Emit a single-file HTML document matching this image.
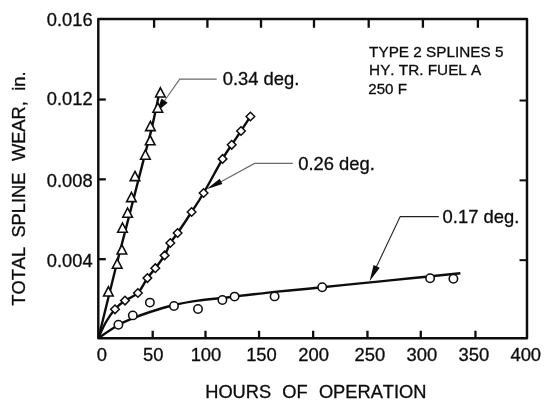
<!DOCTYPE html>
<html><head><meta charset="utf-8"><title>Spline wear chart</title>
<style>html,body{margin:0;padding:0;background:#fff}svg{display:block}</style></head>
<body>
<svg width="550" height="409" viewBox="0 0 550 409">
<rect width="550" height="409" fill="#fff"/>
<path d="M98.40,338.20 C101.20,326.83 111.30,285.65 115.20,270.00 C119.10,254.35 119.50,253.22 121.80,244.30 C124.10,235.38 125.35,230.65 129.00,216.50 C132.65,202.35 140.78,170.73 143.70,159.40 C146.62,148.07 145.37,152.83 146.50,148.50 C147.63,144.17 149.20,138.68 150.50,133.40 C151.80,128.12 152.83,123.53 154.30,116.80 C155.77,110.07 158.47,96.97 159.30,93.00" fill="none" stroke="#0d0d0d" stroke-width="2.4" stroke-linecap="butt" stroke-linejoin="round"/>
<path d="M98.30,338.00 C99.58,335.33 103.22,326.78 106.00,322.00 C108.78,317.22 111.83,312.87 115.00,309.30 C118.17,305.73 121.18,303.32 125.00,300.60 C128.82,297.88 134.17,296.75 137.90,293.00 C141.63,289.25 144.50,282.23 147.40,278.10 C150.30,273.97 152.43,271.98 155.30,268.20 C158.17,264.42 162.10,259.60 164.60,255.40 C167.10,251.20 168.13,246.73 170.30,243.00 C172.47,239.27 174.05,238.17 177.60,233.00 C181.15,227.83 187.27,218.67 191.60,212.00 C195.93,205.33 198.43,201.85 203.60,193.00 C208.77,184.15 217.92,166.93 222.60,158.90 C227.28,150.87 228.63,149.45 231.70,144.80 C234.77,140.15 237.88,135.72 241.00,131.00 C244.12,126.28 248.83,118.92 250.40,116.50" fill="none" stroke="#0d0d0d" stroke-width="2.4" stroke-linecap="butt" stroke-linejoin="round"/>
<path d="M98.30,338.00 C101.65,335.83 112.58,328.30 118.40,325.00 C124.22,321.70 127.93,320.37 133.20,318.20 C138.47,316.03 143.20,314.20 150.00,312.00 C156.80,309.80 166.00,306.90 174.00,305.00 C182.00,303.10 189.93,301.77 198.00,300.60 C206.07,299.43 216.30,298.70 222.40,298.00 C228.50,297.30 228.37,297.13 234.60,296.40 C240.83,295.67 253.13,294.35 259.80,293.60 C266.47,292.85 267.90,292.58 274.60,291.90 C281.30,291.22 292.10,290.27 300.00,289.50 C307.90,288.73 312.00,288.32 322.00,287.30 C332.00,286.28 348.67,284.55 360.00,283.40 C371.33,282.25 378.93,281.52 390.00,280.40 C401.07,279.28 414.67,277.88 426.40,276.70 C438.13,275.52 454.73,273.87 460.40,273.30" fill="none" stroke="#0d0d0d" stroke-width="2.4" stroke-linecap="butt" stroke-linejoin="round"/>
<rect x="98.3" y="19.0" width="428.7" height="319.3" fill="none" stroke="#0d0d0d" stroke-width="2.45" stroke-linejoin="round"/>
<path d="M154.10,19.00 v8.8 M152.69,338.30 v-7.5" stroke="#0d0d0d" stroke-width="2.3" fill="none"/>
<path d="M207.40,19.00 v8.8 M205.49,338.30 v-7.5" stroke="#0d0d0d" stroke-width="2.3" fill="none"/>
<path d="M261.00,19.00 v8.8 M259.08,338.30 v-7.5" stroke="#0d0d0d" stroke-width="2.3" fill="none"/>
<path d="M314.00,19.00 v8.8 M313.17,338.30 v-7.5" stroke="#0d0d0d" stroke-width="2.3" fill="none"/>
<path d="M368.70,19.00 v8.8 M367.47,338.30 v-7.5" stroke="#0d0d0d" stroke-width="2.3" fill="none"/>
<path d="M422.90,19.00 v8.8 M420.76,338.30 v-7.5" stroke="#0d0d0d" stroke-width="2.3" fill="none"/>
<path d="M477.90,19.00 v8.8 M475.46,338.30 v-7.5" stroke="#0d0d0d" stroke-width="2.3" fill="none"/>
<path d="M98.30,259.18 h7.5" stroke="#0d0d0d" stroke-width="2.3" fill="none"/><path d="M527.05,260.18 h-7.5" stroke="#0d0d0d" stroke-width="2.0" fill="none"/>
<path d="M98.30,179.35 h7.5" stroke="#0d0d0d" stroke-width="2.3" fill="none"/><path d="M527.05,180.35 h-7.5" stroke="#0d0d0d" stroke-width="2.0" fill="none"/>
<path d="M98.30,99.52 h7.5" stroke="#0d0d0d" stroke-width="2.3" fill="none"/><path d="M527.05,100.52 h-7.5" stroke="#0d0d0d" stroke-width="2.0" fill="none"/>
<path d="M216.7,79.1 H179.7 L164.5,100.7" fill="none" stroke="#6a6a6a" stroke-width="1.1"/>
<path d="M292.8,163.4 H254.6 L215,185" fill="none" stroke="#6a6a6a" stroke-width="1.1"/>
<path d="M438.8,216.6 H400.2 L373,274" fill="none" stroke="#222" stroke-width="1.1"/>
<polygon points="156.47,112.04 167.66,102.80 161.45,98.42" fill="#0d0d0d"/>
<polygon points="206.50,189.20 222.41,183.96 219.67,178.85" fill="#0d0d0d"/>
<polygon points="369.60,281.30 379.73,267.84 373.58,264.93" fill="#0d0d0d"/>
<polygon points="160.40,87.80 165.20,97.00 155.60,97.00" fill="#fff" stroke="#0d0d0d" stroke-width="1.6" stroke-linejoin="miter"/>
<polygon points="157.80,103.00 162.60,112.20 153.00,112.20" fill="#fff" stroke="#0d0d0d" stroke-width="1.6" stroke-linejoin="miter"/>
<polygon points="150.40,121.40 155.20,130.60 145.60,130.60" fill="#fff" stroke="#0d0d0d" stroke-width="1.6" stroke-linejoin="miter"/>
<polygon points="150.20,135.60 155.00,144.80 145.40,144.80" fill="#fff" stroke="#0d0d0d" stroke-width="1.6" stroke-linejoin="miter"/>
<polygon points="145.40,150.00 150.20,159.20 140.60,159.20" fill="#fff" stroke="#0d0d0d" stroke-width="1.6" stroke-linejoin="miter"/>
<polygon points="135.00,171.40 139.80,180.60 130.20,180.60" fill="#fff" stroke="#0d0d0d" stroke-width="1.6" stroke-linejoin="miter"/>
<polygon points="131.40,192.40 136.20,201.60 126.60,201.60" fill="#fff" stroke="#0d0d0d" stroke-width="1.6" stroke-linejoin="miter"/>
<polygon points="127.60,208.00 132.40,217.20 122.80,217.20" fill="#fff" stroke="#0d0d0d" stroke-width="1.6" stroke-linejoin="miter"/>
<polygon points="122.50,223.00 127.30,232.20 117.70,232.20" fill="#fff" stroke="#0d0d0d" stroke-width="1.6" stroke-linejoin="miter"/>
<polygon points="121.90,244.80 126.70,254.00 117.10,254.00" fill="#fff" stroke="#0d0d0d" stroke-width="1.6" stroke-linejoin="miter"/>
<polygon points="117.20,259.00 122.00,268.20 112.40,268.20" fill="#fff" stroke="#0d0d0d" stroke-width="1.6" stroke-linejoin="miter"/>
<polygon points="108.40,286.80 113.20,296.00 103.60,296.00" fill="#fff" stroke="#0d0d0d" stroke-width="1.6" stroke-linejoin="miter"/>
<polygon points="115.00,305.00 119.30,309.30 115.00,313.60 110.70,309.30" fill="#fff" stroke="#0d0d0d" stroke-width="1.5"/>
<polygon points="125.00,296.30 129.30,300.60 125.00,304.90 120.70,300.60" fill="#fff" stroke="#0d0d0d" stroke-width="1.5"/>
<polygon points="137.90,288.70 142.20,293.00 137.90,297.30 133.60,293.00" fill="#fff" stroke="#0d0d0d" stroke-width="1.5"/>
<polygon points="147.40,273.80 151.70,278.10 147.40,282.40 143.10,278.10" fill="#fff" stroke="#0d0d0d" stroke-width="1.5"/>
<polygon points="155.30,263.90 159.60,268.20 155.30,272.50 151.00,268.20" fill="#fff" stroke="#0d0d0d" stroke-width="1.5"/>
<polygon points="164.60,251.10 168.90,255.40 164.60,259.70 160.30,255.40" fill="#fff" stroke="#0d0d0d" stroke-width="1.5"/>
<polygon points="170.30,238.70 174.60,243.00 170.30,247.30 166.00,243.00" fill="#fff" stroke="#0d0d0d" stroke-width="1.5"/>
<polygon points="177.60,228.70 181.90,233.00 177.60,237.30 173.30,233.00" fill="#fff" stroke="#0d0d0d" stroke-width="1.5"/>
<polygon points="191.60,207.70 195.90,212.00 191.60,216.30 187.30,212.00" fill="#fff" stroke="#0d0d0d" stroke-width="1.5"/>
<polygon points="203.60,188.70 207.90,193.00 203.60,197.30 199.30,193.00" fill="#fff" stroke="#0d0d0d" stroke-width="1.5"/>
<polygon points="222.60,154.60 226.90,158.90 222.60,163.20 218.30,158.90" fill="#fff" stroke="#0d0d0d" stroke-width="1.5"/>
<polygon points="231.70,140.50 236.00,144.80 231.70,149.10 227.40,144.80" fill="#fff" stroke="#0d0d0d" stroke-width="1.5"/>
<polygon points="241.00,126.70 245.30,131.00 241.00,135.30 236.70,131.00" fill="#fff" stroke="#0d0d0d" stroke-width="1.5"/>
<polygon points="250.40,112.20 254.70,116.50 250.40,120.80 246.10,116.50" fill="#fff" stroke="#0d0d0d" stroke-width="1.5"/>
<circle cx="118.40" cy="324.80" r="4.2" fill="#fff" stroke="#0d0d0d" stroke-width="1.55"/>
<circle cx="132.80" cy="315.40" r="4.2" fill="#fff" stroke="#0d0d0d" stroke-width="1.55"/>
<circle cx="149.90" cy="302.60" r="4.2" fill="#fff" stroke="#0d0d0d" stroke-width="1.55"/>
<circle cx="174.00" cy="306.00" r="4.2" fill="#fff" stroke="#0d0d0d" stroke-width="1.55"/>
<circle cx="198.00" cy="309.00" r="4.2" fill="#fff" stroke="#0d0d0d" stroke-width="1.55"/>
<circle cx="222.40" cy="300.00" r="4.2" fill="#fff" stroke="#0d0d0d" stroke-width="1.55"/>
<circle cx="234.60" cy="296.60" r="4.2" fill="#fff" stroke="#0d0d0d" stroke-width="1.55"/>
<circle cx="274.60" cy="296.40" r="4.2" fill="#fff" stroke="#0d0d0d" stroke-width="1.55"/>
<circle cx="322.20" cy="287.30" r="4.2" fill="#fff" stroke="#0d0d0d" stroke-width="1.55"/>
<circle cx="430.10" cy="278.20" r="4.2" fill="#fff" stroke="#0d0d0d" stroke-width="1.55"/>
<circle cx="453.40" cy="278.70" r="4.2" fill="#fff" stroke="#0d0d0d" stroke-width="1.55"/>
<text x="101.80" y="361.3" font-size="18.4" text-anchor="middle" font-family="Liberation Sans, Arial, Helvetica, sans-serif" fill="#0c0c0c" stroke="#0c0c0c" stroke-width="0.3">0</text>
<text x="153.29" y="361.3" font-size="18.4" text-anchor="middle" font-family="Liberation Sans, Arial, Helvetica, sans-serif" fill="#0c0c0c" stroke="#0c0c0c" stroke-width="0.3">50</text>
<text x="205.99" y="361.3" font-size="18.4" text-anchor="middle" font-family="Liberation Sans, Arial, Helvetica, sans-serif" fill="#0c0c0c" stroke="#0c0c0c" stroke-width="0.3">100</text>
<text x="261.48" y="361.3" font-size="18.4" text-anchor="middle" font-family="Liberation Sans, Arial, Helvetica, sans-serif" fill="#0c0c0c" stroke="#0c0c0c" stroke-width="0.3">150</text>
<text x="313.57" y="361.3" font-size="18.4" text-anchor="middle" font-family="Liberation Sans, Arial, Helvetica, sans-serif" fill="#0c0c0c" stroke="#0c0c0c" stroke-width="0.3">200</text>
<text x="369.87" y="361.3" font-size="18.4" text-anchor="middle" font-family="Liberation Sans, Arial, Helvetica, sans-serif" fill="#0c0c0c" stroke="#0c0c0c" stroke-width="0.3">250</text>
<text x="421.86" y="361.3" font-size="18.4" text-anchor="middle" font-family="Liberation Sans, Arial, Helvetica, sans-serif" fill="#0c0c0c" stroke="#0c0c0c" stroke-width="0.3">300</text>
<text x="473.86" y="361.3" font-size="18.4" text-anchor="middle" font-family="Liberation Sans, Arial, Helvetica, sans-serif" fill="#0c0c0c" stroke="#0c0c0c" stroke-width="0.3">350</text>
<text x="525.75" y="361.3" font-size="18.4" text-anchor="middle" font-family="Liberation Sans, Arial, Helvetica, sans-serif" fill="#0c0c0c" stroke="#0c0c0c" stroke-width="0.3">400</text>
<text x="92.6" y="267.48" font-size="18.3" text-anchor="end" font-family="Liberation Sans, Arial, Helvetica, sans-serif" fill="#0c0c0c" stroke="#0c0c0c" stroke-width="0.3">0.004</text>
<text x="92.6" y="187.25" font-size="18.3" text-anchor="end" font-family="Liberation Sans, Arial, Helvetica, sans-serif" fill="#0c0c0c" stroke="#0c0c0c" stroke-width="0.3">0.008</text>
<text x="92.6" y="105.32" font-size="18.3" text-anchor="end" font-family="Liberation Sans, Arial, Helvetica, sans-serif" fill="#0c0c0c" stroke="#0c0c0c" stroke-width="0.3">0.012</text>
<text x="92.6" y="25.50" font-size="18.3" text-anchor="end" font-family="Liberation Sans, Arial, Helvetica, sans-serif" fill="#0c0c0c" stroke="#0c0c0c" stroke-width="0.3">0.016</text>
<text transform="translate(205.2,398.4) scale(1.045,1)" font-size="17.5" style="font-kerning:none" font-family="Liberation Sans, Arial, Helvetica, sans-serif" fill="#0c0c0c" stroke="#0c0c0c" stroke-width="0.3">HOURS<tspan dx="5.7"> OF</tspan><tspan dx="6.0"> OPERATION</tspan></text>
<text transform="translate(24.9,305.7) rotate(-90)" font-size="18.3" style="font-kerning:none" font-family="Liberation Sans, Arial, Helvetica, sans-serif" fill="#0c0c0c" stroke="#0c0c0c" stroke-width="0.3">TOTAL<tspan dx="4.1"> SPLINE</tspan><tspan dx="6.4"> WEAR,</tspan><tspan dx="5.3"> in.</tspan></text>
<text x="222.7" y="85.4" font-size="18.4" font-family="Liberation Sans, Arial, Helvetica, sans-serif" fill="#0c0c0c" stroke="#0c0c0c" stroke-width="0.3">0.34 deg.</text>
<text x="298.2" y="169.8" font-size="18.4" font-family="Liberation Sans, Arial, Helvetica, sans-serif" fill="#0c0c0c" stroke="#0c0c0c" stroke-width="0.3">0.26 deg.</text>
<text x="442.6" y="223.2" font-size="18.4" font-family="Liberation Sans, Arial, Helvetica, sans-serif" fill="#0c0c0c" stroke="#0c0c0c" stroke-width="0.3">0.17 deg.</text>
<text x="369.1" y="56.80" font-size="15.3" style="font-kerning:none" font-family="Liberation Sans, Arial, Helvetica, sans-serif" fill="#0c0c0c" stroke="#0c0c0c" stroke-width="0.3">TYPE 2 SPLINES 5</text>
<text x="369.1" y="75.00" font-size="15.3" style="font-kerning:none" font-family="Liberation Sans, Arial, Helvetica, sans-serif" fill="#0c0c0c" stroke="#0c0c0c" stroke-width="0.3">HY. TR. FUEL A</text>
<text x="368.3" y="93.60" font-size="15.1" style="font-kerning:none" font-family="Liberation Sans, Arial, Helvetica, sans-serif" fill="#0c0c0c" stroke="#0c0c0c" stroke-width="0.3">250 F</text>
</svg>
</body></html>
